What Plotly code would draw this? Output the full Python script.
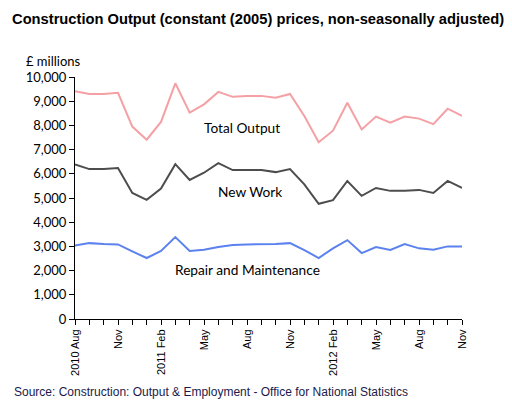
import plotly.graph_objects as go

# monthly, Aug 2010 .. Nov 2012
months = ["2010 Aug", "Sep", "Oct", "Nov", "Dec", "2011 Jan", "2011 Feb", "Mar", "Apr",
          "May", "Jun", "Jul", "Aug", "Sep", "Oct", "Nov", "Dec", "2012 Jan",
          "2012 Feb", "Mar", "Apr", "May", "Jun", "Jul", "Aug", "Sep", "Oct", "Nov"]

total_output = [9410, 9300, 9300, 9345, 7950, 7410, 8145, 9740, 8530, 8870, 9385, 9180, 9220, 9220,
                9140, 9300, 8390, 7300, 7780, 8935, 7830, 8365, 8115, 8365, 8280, 8050, 8690, 8390]
new_work = [6385, 6195, 6195, 6235, 5210, 4925, 5390, 6400, 5745, 6045, 6440, 6155, 6155, 6155,
            6070, 6195, 5565, 4760, 4910, 5705, 5090, 5415, 5295, 5295, 5335, 5210, 5705, 5415]
repair = [3040, 3135, 3095, 3080, 2795, 2520, 2810, 3385, 2810, 2865, 2975, 3055, 3080, 3080,
          3095, 3135, 2850, 2520, 2920, 3260, 2725, 2975, 2850, 3095, 2920, 2865, 3000, 3000]

x = list(range(len(months)))
ticktext = [m if (i % 3 == 0) else "" for i, m in enumerate(months)]

fig = go.Figure()
fig.add_trace(go.Scatter(x=x, y=total_output, mode="lines", line=dict(color="#F4A0A5", width=2)))
fig.add_trace(go.Scatter(x=x, y=new_work, mode="lines", line=dict(color="#4D4D4D", width=2)))
fig.add_trace(go.Scatter(x=x, y=repair, mode="lines", line=dict(color="#5B82EE", width=2)))

label_font = dict(family="Lato, Open Sans, sans-serif", size=13, color="black")
series_font = dict(family="Lato, Open Sans, sans-serif", size=13.7, color="black")
fig.add_annotation(x=11.65, y=7930, text="Total Output", showarrow=False, font=series_font)
fig.add_annotation(x=12.2, y=5250, text="New Work", showarrow=False, font=series_font)
fig.add_annotation(x=12.05, y=2030, text="Repair and Maintenance", showarrow=False, font=series_font)

fig.add_annotation(xref="paper", yref="paper", x=-0.133, y=1.066, xanchor="left", yanchor="middle",
                   text="£ millions", showarrow=False, font=label_font)
fig.add_annotation(xref="paper", yref="paper", x=-0.163, y=-0.30, xanchor="left", yanchor="middle",
                   text="Source: Construction: Output & Employment - Office for National Statistics",
                   showarrow=False,
                   font=dict(family="Liberation Sans, Arial, sans-serif", size=12, color="#1a1a4a"))

fig.update_layout(
    width=504, height=404,
    margin=dict(l=67, r=50, t=69, b=93),
    paper_bgcolor="white", plot_bgcolor="white",
    showlegend=False,
    title=dict(text="<b>Construction Output (constant (2005) prices, non-seasonally adjusted)</b>",
               x=0.008, xanchor="left", y=0.973, yanchor="middle",
               font=dict(family="Liberation Sans, Arial, sans-serif", size=14.7, color="black")),
)
fig.update_xaxes(range=[0, 27], tickmode="array", tickvals=x, ticktext=ticktext,
                 tickangle=-90, ticks="outside", ticklen=5, tickcolor="black",
                 showline=True, linecolor="black", linewidth=1, showgrid=False, zeroline=False,
                 tickfont=dict(family="Liberation Sans, Arial, sans-serif", size=11, color="black"))
fig.update_yaxes(range=[0, 10000], tickmode="array", tickvals=list(range(0, 10001, 1000)),
                 tickformat=",d", ticks="outside", ticklen=5, tickcolor="black",
                 showline=True, linecolor="black", linewidth=1, showgrid=False, zeroline=False,
                 tickfont=label_font)

fig.write_html("out.html")
